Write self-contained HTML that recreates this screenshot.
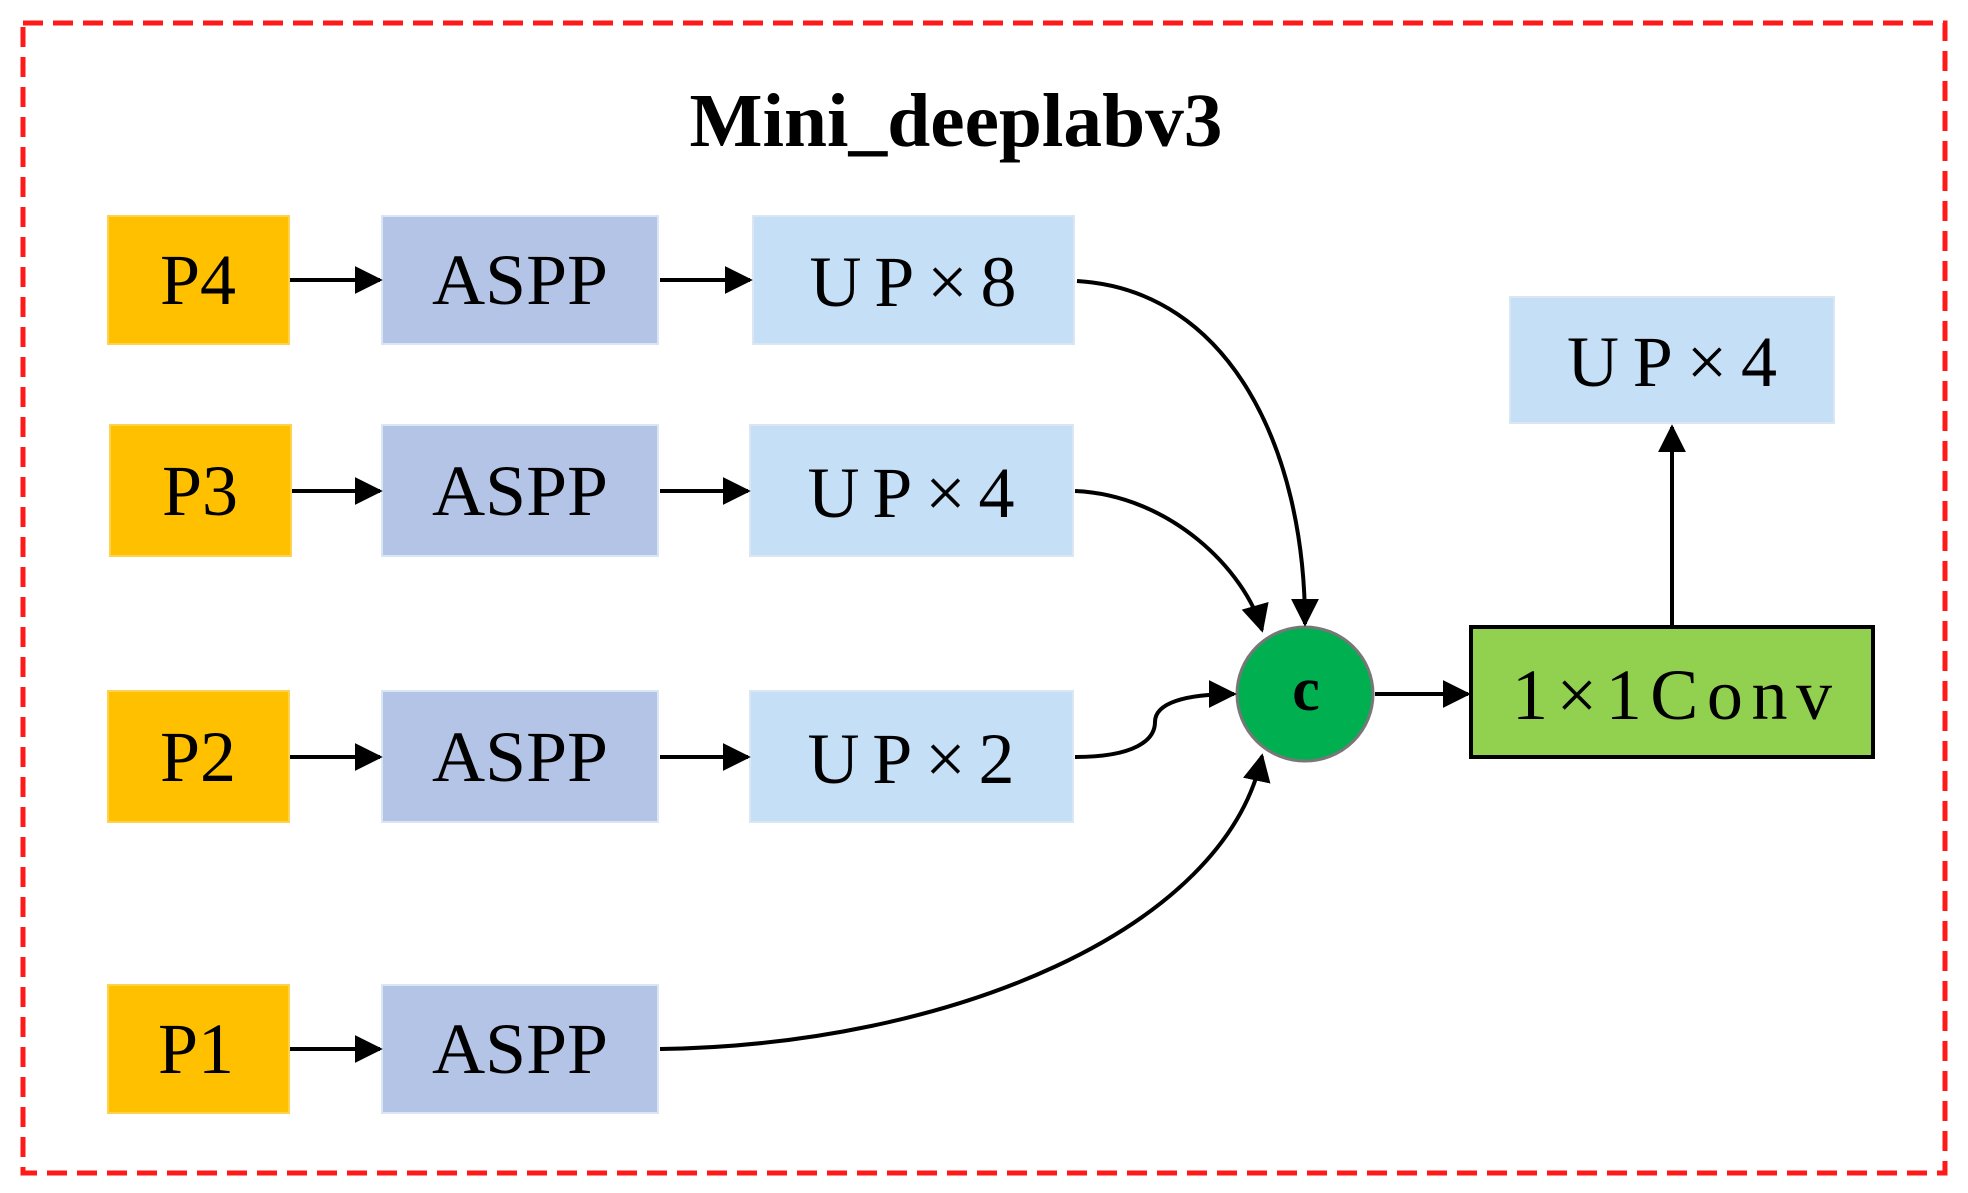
<!DOCTYPE html>
<html><head><meta charset="utf-8"><style>
html,body{margin:0;padding:0;background:#fff;}
svg{display:block;}
text{font-family:"Liberation Serif",serif;fill:#000;}
</style></head><body>
<svg width="1968" height="1193" viewBox="0 0 1968 1193" xmlns="http://www.w3.org/2000/svg">
<defs>
<marker id="a" viewBox="0 0 10 10" refX="10" refY="5" markerWidth="9" markerHeight="9" markerUnits="userSpaceOnUse" orient="auto">
</marker>
<marker id="ah" viewBox="0 0 10 10" refX="9" refY="5" markerWidth="7" markerHeight="7" orient="auto"><path d="M0,0 L10,5 L0,10 z" fill="#000"/></marker>
</defs>
<rect x="23" y="23" width="1922" height="1150" fill="none" stroke="#ff1a1a" stroke-width="5" stroke-dasharray="20 10"/>
<text x="956" y="146" font-size="76" font-weight="bold" text-anchor="middle" textLength="533" lengthAdjust="spacingAndGlyphs">Mini_deeplabv3</text>

<g stroke="#dbe6f4" stroke-width="2">
<rect x="108" y="216" width="181" height="128" fill="#FFC000" stroke="#ffd24d"/>
<rect x="110" y="425" width="181" height="131" fill="#FFC000" stroke="#ffd24d"/>
<rect x="108" y="691" width="181" height="131" fill="#FFC000" stroke="#ffd24d"/>
<rect x="108" y="985" width="181" height="128" fill="#FFC000" stroke="#ffd24d"/>
<rect x="382" y="216" width="276" height="128" fill="#B4C4E6"/>
<rect x="382" y="425" width="276" height="131" fill="#B4C4E6"/>
<rect x="382" y="691" width="276" height="131" fill="#B4C4E6"/>
<rect x="382" y="985" width="276" height="128" fill="#B4C4E6"/>
<rect x="753" y="216" width="321" height="128" fill="#C5DFF6"/>
<rect x="750" y="425" width="323" height="131" fill="#C5DFF6"/>
<rect x="750" y="691" width="323" height="131" fill="#C5DFF6"/>
<rect x="1510" y="297" width="324" height="126" fill="#C5DFF6"/>
</g>
<rect x="1471" y="627" width="402" height="130" fill="#92D050" stroke="#000" stroke-width="4"/>
<ellipse cx="1305" cy="694" rx="68" ry="67" fill="#00B050" stroke="#777" stroke-width="3"/>

<g font-size="72" text-anchor="middle">
<text x="198" y="304">P4</text>
<text x="200" y="515">P3</text>
<text x="198" y="781">P2</text>
<text x="196" y="1073">P1</text>
<text x="520" y="304" textLength="176" lengthAdjust="spacingAndGlyphs">ASPP</text>
<text x="520" y="515" textLength="176" lengthAdjust="spacingAndGlyphs">ASPP</text>
<text x="520" y="781" textLength="176" lengthAdjust="spacingAndGlyphs">ASPP</text>
<text x="520" y="1073" textLength="176" lengthAdjust="spacingAndGlyphs">ASPP</text>
<text x="913" y="306" textLength="207" lengthAdjust="spacing">UP×8</text>
<text x="911" y="517" textLength="207" lengthAdjust="spacing">UP×4</text>
<text x="911" y="783" textLength="207" lengthAdjust="spacing">UP×2</text>
<text x="1672" y="386" textLength="210" lengthAdjust="spacing">UP×4</text>
<text x="1672" y="719" textLength="320" lengthAdjust="spacing">1×1Conv</text>
<text x="1306" y="710" font-size="62" font-weight="bold">c</text>
</g>

<g stroke="#000" stroke-width="4" fill="none" marker-end="url(#ah)">
<line x1="290" y1="280" x2="380" y2="280"/>
<line x1="292" y1="491" x2="380" y2="491"/>
<line x1="290" y1="757" x2="380" y2="757"/>
<line x1="290" y1="1049" x2="380" y2="1049"/>
<line x1="660" y1="280" x2="750" y2="280"/>
<line x1="660" y1="491" x2="748" y2="491"/>
<line x1="660" y1="757" x2="748" y2="757"/>
<line x1="1375" y1="694" x2="1468" y2="694"/>
<line x1="1672" y1="626" x2="1672" y2="427"/>
<path d="M1077 281 C1230 290 1305 450 1305 624"/>
<path d="M1075 491 C1170 495 1245 570 1262 630"/>
<path d="M1075 757 C1135 757 1155 740 1155 722 C1155 703 1185 694 1234 694"/>
<path d="M660 1049 C950 1045 1225 930 1262 756"/>
</g>
</svg>
</body></html>
